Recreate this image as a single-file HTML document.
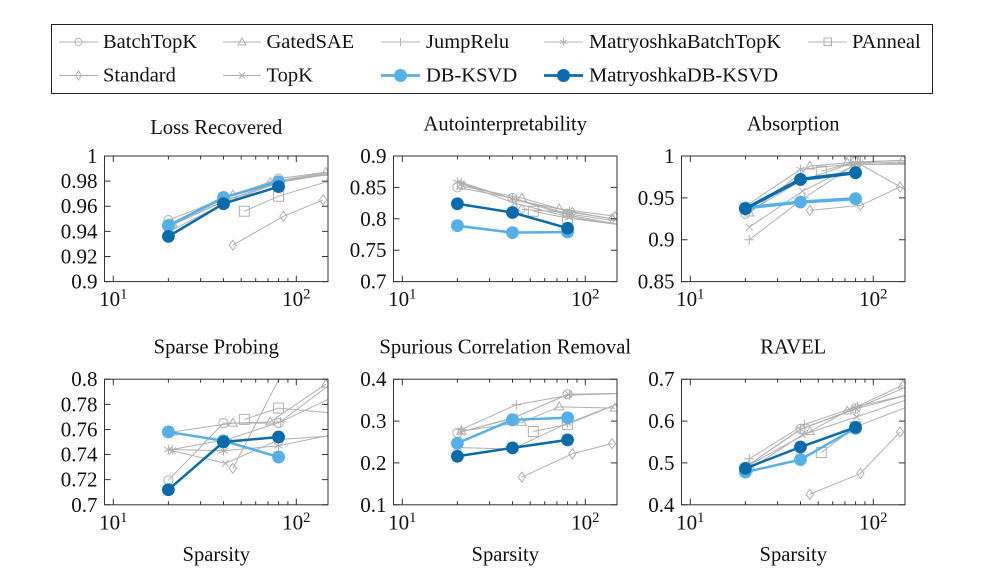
<!DOCTYPE html>
<html lang="en">
<head>
<meta charset="utf-8">
<title>SAE metric comparison</title>
<style>
html,body{margin:0;padding:0;background:#fff;width:1000px;height:582px;overflow:hidden}
svg{display:block}
text{font-family:"Liberation Serif",serif;fill:#111}
</style>
</head>
<body>
<svg id="chart" width="1000" height="582" viewBox="0 0 1000 582" xmlns="http://www.w3.org/2000/svg">
<rect x="0" y="0" width="1000" height="582" fill="#fff"/>
<g>
<rect x="51.5" y="24.5" width="881" height="69" fill="none" stroke="#222" stroke-width="1"/>
<g fill="none" stroke="#b0b0b0" stroke-width="1"><path d="M59 42H98"/><circle cx="78.5" cy="42" r="3.6"/><text x="103" y="48" font-size="20.5" stroke="none">BatchTopK</text></g>
<g fill="none" stroke="#b0b0b0" stroke-width="1"><path d="M223 42H261"/><path d="M242 38L246 45H238Z"/><text x="266.500" y="48" font-size="20.5" stroke="none">GatedSAE</text></g>
<g fill="none" stroke="#b0b0b0" stroke-width="1"><path d="M381 42H420"/><path d="M400.500 38V46"/><text x="426" y="48" font-size="20.5" stroke="none">JumpRelu</text></g>
<g fill="none" stroke="#b0b0b0" stroke-width="1"><path d="M544 42H583"/><path d="M563.500 38V46M560 40L567 44M560 44L567 40"/><text x="589" y="48" font-size="20.5" stroke="none">MatryoshkaBatchTopK</text></g>
<g fill="none" stroke="#b0b0b0" stroke-width="1"><path d="M808 42H847"/><rect x="824" y="38" width="7.500" height="7.500"/><text x="852" y="48" font-size="20.5" stroke="none">PAnneal</text></g>
<g fill="none" stroke="#b0b0b0" stroke-width="1"><path d="M59 75.500H98"/><path d="M78.500 71L81.500 75.500L78.500 80L75.500 75.500Z"/><text x="103" y="81.500" font-size="20.5" stroke="none">Standard</text></g>
<g fill="none" stroke="#b0b0b0" stroke-width="1"><path d="M223 75.500H261"/><path d="M239 72.500L245 78.500M239 78.500L245 72.500"/><text x="266.500" y="81.500" font-size="20.5" stroke="none">TopK</text></g>
<g fill="none" stroke="#56b0e8" stroke-width="2.800"><path d="M381 75.500H420"/><circle cx="400.500" cy="75.500" r="6.500" fill="#56b0e8" stroke="none"/><text x="426" y="81.500" font-size="20.5" stroke="none">DB-KSVD</text></g>
<g fill="none" stroke="#0a6bab" stroke-width="2.800"><path d="M544 75.500H583"/><circle cx="563.500" cy="75.500" r="6.500" fill="#0a6bab" stroke="none"/><text x="589" y="81.500" font-size="20.5" stroke="none">MatryoshkaDB-KSVD</text></g>
</g>
</svg>
<script>
// Sparsity values per series
const xBatch = [20, 40, 80, 160];
const xGated = [21, 45, 72, 145];
const xJump = [21, 42, 82, 160];
const xMatBatch = [20, 40, 80, 160];
const xPAnneal = [52, 80, 160];
const xStandard = [45, 85, 140];
const xTopK = [21, 41, 81, 160];
const xDb = [20, 40, 80];

// Loss Recovered
const lossBatch = [0.949, 0.966, 0.982, 0.988];
const lossGated = [0.946, 0.969, 0.979, 0.987];
const lossJump = [0.945, 0.965, 0.98, 0.987];
const lossMatBatch = [0.944, 0.964, 0.979, 0.986];
const lossPAnneal = [0.956, 0.968, 0.981];
const lossStandard = [0.929, 0.952, 0.965];
const lossTopK = [0.941, 0.963, 0.979, 0.987];
const lossDb = [0.9446, 0.967, 0.9795];
const lossMatDb = [0.936, 0.962, 0.9756];
const lossTicks = [0.9, 0.92, 0.94, 0.96, 0.98, 1];

// Autointerpretability
const autoBatch = [0.85, 0.833, 0.808, 0.795];
const autoGated = [0.852, 0.833, 0.816, 0.804];
const autoJump = [0.858, 0.83, 0.812, 0.797];
const autoMatBatch = [0.858, 0.832, 0.806, 0.79];
const autoPAnneal = [0.812, 0.801, 0.79];
const autoStandard = [0.815, 0.81, 0.8];
const autoTopK = [0.856, 0.825, 0.803, 0.79];
const autoDb = [0.789, 0.778, 0.779];
const autoMatDb = [0.824, 0.81, 0.785];
const autoTicks = [0.7, 0.75, 0.8, 0.85, 0.9];

// Absorption
const absBatch = [0.931, 0.97, 0.993, 0.99];
const absGated = [0.932, 0.988, 0.992, 0.995];
const absJump = [0.9, 0.95, 0.992, 0.956];
const absMatBatch = [0.94, 0.984, 0.991, 0.993];
const absPAnneal = [0.982, 0.993, 0.995];
const absStandard = [0.935, 0.941, 0.963];
const absTopK = [0.915, 0.958, 0.99, 0.99];
const absDb = [0.938, 0.945, 0.949];
const absMatDb = [0.937, 0.972, 0.98];
const absTicks = [0.85, 0.9, 0.95, 1];

// Sparse Probing
const sparseBatch = [0.7195, 0.765, 0.765, 0.798];
const sparseGated = [0.758, 0.765, 0.766, 0.796];
const sparseJump = [0.744, 0.752, 0.766, 0.786];
const sparseMatBatch = [0.744, 0.743, 0.747, 0.756];
const sparsePAnneal = [0.768, 0.777, 0.773];
const sparseStandard = [0.729, 0.807, 0.83];
const sparseTopK = [0.743, 0.733, 0.752, 0.755];
const sparseDb = [0.758, 0.751, 0.738];
const sparseMatDb = [0.712, 0.75, 0.754];
const sparseTicks = [0.7, 0.72, 0.74, 0.76, 0.78, 0.8];

// Spurious Correlation Removal
const scrBatch = [0.272, 0.306, 0.364, 0.366];
const scrGated = [0.276, 0.297, 0.334, 0.331];
const scrJump = [0.28, 0.339, 0.362, 0.366];
const scrMatBatch = [0.237, 0.233, 0.295, 0.346];
const scrPAnneal = [0.275, 0.292, 0.346];
const scrStandard = [0.166, 0.222, 0.246];
const scrTopK = [0.274, 0.309, 0.364, 0.366];
const scrDb = [0.247, 0.303, 0.308];
const scrMatDb = [0.216, 0.236, 0.255];
const scrTicks = [0.1, 0.2, 0.3, 0.4];

// RAVEL
const ravelBatch = [0.49, 0.581, 0.63, 0.686];
const ravelGated = [0.495, 0.575, 0.624, 0.686];
const ravelJump = [0.51, 0.592, 0.635, 0.664];
const ravelMatBatch = [0.49, 0.58, 0.629, 0.664];
const ravelPAnneal = [0.525, 0.586, 0.637];
const ravelStandard = [0.425, 0.475, 0.574];
const ravelTopK = [0.485, 0.567, 0.61, 0.654];
const ravelDb = [0.478, 0.508, 0.583];
const ravelMatDb = [0.487, 0.538, 0.585];
const ravelTicks = [0.4, 0.5, 0.6, 0.7];

const xTickExponents = [1, 2];
const minorTickFactors = [2, 3, 4, 5, 6, 7, 8, 9];

const NS = 'http://www.w3.org/2000/svg';
const root = document.getElementById('chart');
const GRAY = '#b0b0b0', LIGHT = '#56b0e8', DARK = '#0a6bab', AXIS = '#333';

function make(tag, parent, attrs) {
  const el = document.createElementNS(NS, tag);
  for (const k in attrs) el.setAttribute(k, attrs[k]);
  parent.appendChild(el);
  return el;
}

function markerPath(kind, x, y) {
  const r = 4.2;
  if (kind === 'triangle') return `M${x} ${y-r-0.6}L${x+r+0.4} ${y+r-1.2}H${x-r-0.4}Z`;
  if (kind === 'plus') return `M${x-r-0.6} ${y}H${x+r+0.6}M${x} ${y-r-0.6}V${y+r+0.6}`;
  if (kind === 'star') return `M${x} ${y-r-0.6}V${y+r+0.6}M${x-r} ${y-r*0.6}L${x+r} ${y+r*0.6}M${x-r} ${y+r*0.6}L${x+r} ${y-r*0.6}`;
  if (kind === 'square') return `M${x-r-0.8} ${y-r-0.8}h${2*r+1.6}v${2*r+1.6}h${-2*r-1.6}Z`;
  if (kind === 'diamond') return `M${x} ${y-r-0.8}L${x+r-0.6} ${y}L${x} ${y+r+0.8}L${x-r+0.6} ${y}Z`;
  if (kind === 'cross') return `M${x-r+0.8} ${y-r+0.8}L${x+r-0.8} ${y+r-0.8}M${x-r+0.8} ${y+r-0.8}L${x+r-0.8} ${y-r+0.8}`;
  return '';
}

function drawPanel(p, index) {
  const panel = make('g', root, {});
  
  

  const left = p.left, right = p.left + 223.5, top = p.top, bottom = p.top + 125.6;
  const x10 = left + 8.8, decade = 183;
  const sx = v => x10 + (Math.log10(v) - 1) * decade;
  const sy = v => bottom - (v - p.yMin) / (p.yMax - p.yMin) * (bottom - top);
  const cx = (left + right) / 2;

  const title = make('text', panel, {x: cx, y: p.titleY, 'font-size': 20.6, 'text-anchor': 'middle'});
  
  
  title.textContent = p.title;

  const clipId = 'clip-' + index;
  const defs = make('defs', panel, {});
  const clip = make('clipPath', defs, {id: clipId});
  make('rect', clip, {x: left, y: top, width: right - left, height: bottom - top});

  const plot = make('g', panel, {'clip-path': `url(#${clipId})`});
  
  

  p.series.forEach(s => {
    const g = make('g', plot, {fill: 'none', stroke: s.color, 'stroke-width': s.thick ? (p.heavy ? 3.4 : 2.5) : 1});
    
    
    const pts = s.y.map((v, i) => [sx(s.x[i]), sy(v)]);
    const line = make('path', g, {d: 'M' + pts.map(q => q[0].toFixed(2) + ' ' + q[1].toFixed(2)).join('L')});
    
    
    pts.forEach(q => {
      let m;
      if (s.kind === 'dot') m = make('circle', g, {cx: q[0], cy: q[1], r: 6.4, fill: s.color, stroke: 'none'});
      else if (s.kind === 'circle') m = make('circle', g, {cx: q[0], cy: q[1], r: 4.6});
      else m = make('path', g, {d: markerPath(s.kind, q[0], q[1])});
      
      
    });
  });

  const ticks = make('g', panel, {stroke: AXIS, 'stroke-width': 1, fill: 'none'});
  
  
  let d = '';
  xTickExponents.forEach(e => {
    const X = sx(Math.pow(10, e));
    d += `M${X} ${bottom}v-6M${X} ${top}v6`;
  });
  xTickExponents.forEach(e => {
    minorTickFactors.forEach(f => {
      const v = f * Math.pow(10, e);
      if (sx(v) < right) {
        const X = sx(v);
        d += `M${X} ${bottom}v-3.5M${X} ${top}v3.5`;
      }
    });
  });
  p.ticks.forEach(t => {
    const Y = sy(t);
    d += `M${left} ${Y}h6M${right} ${Y}h-6`;
  });
  make('path', ticks, {d});

  const frame = make('rect', panel, {x: left, y: top, width: right - left, height: bottom - top, fill: 'none', stroke: AXIS, 'stroke-width': 1});
  
  

  p.ticks.forEach(t => {
    const label = make('text', panel, {x: left - 7, y: sy(t) + 7, 'font-size': 21, 'text-anchor': 'end'});
    
    
    label.textContent = String(t);
  });

  xTickExponents.forEach(e => {
    const label = make('text', panel, {x: sx(Math.pow(10, e)), y: bottom + 24.5, 'font-size': 21, 'text-anchor': 'middle'});
    
    
    label.textContent = '10';
    const sup = make('tspan', label, {dy: -7.5, 'font-size': 14.5});
    
    
    sup.textContent = String(e);
  });

  if (p.xlabel) {
    const xl = make('text', panel, {x: cx, y: 561, 'font-size': 20.6, 'text-anchor': 'middle'});
    
    
    xl.textContent = 'Sparsity';
  }
}

function seriesSet(batch, gated, jump, mat, pann, std, topk, db, matdb) {
  return [
    {name: 'batchtopk', kind: 'circle', color: GRAY, x: xBatch, y: batch},
    {name: 'gatedsae', kind: 'triangle', color: GRAY, x: xGated, y: gated},
    {name: 'jumprelu', kind: 'plus', color: GRAY, x: xJump, y: jump},
    {name: 'matryoshkabatchtopk', kind: 'star', color: GRAY, x: xMatBatch, y: mat},
    {name: 'panneal', kind: 'square', color: GRAY, x: xPAnneal, y: pann},
    {name: 'standard', kind: 'diamond', color: GRAY, x: xStandard, y: std},
    {name: 'topk', kind: 'cross', color: GRAY, x: xTopK, y: topk},
    {name: 'db-ksvd', kind: 'dot', color: LIGHT, thick: true, x: xDb, y: db},
    {name: 'matryoshkadb-ksvd', kind: 'dot', color: DARK, thick: true, x: xDb, y: matdb}
  ];
}

[
  {slug: 'loss-recovered', title: 'Loss Recovered', titleY: 134, left: 104.5, top: 156, yMin: 0.9, yMax: 1, ticks: lossTicks,
   series: seriesSet(lossBatch, lossGated, lossJump, lossMatBatch, lossPAnneal, lossStandard, lossTopK, lossDb, lossMatDb)},
  {slug: 'autointerpretability', title: 'Autointerpretability', titleY: 130.5, left: 393.5, top: 156, yMin: 0.7, yMax: 0.9, ticks: autoTicks,
   series: seriesSet(autoBatch, autoGated, autoJump, autoMatBatch, autoPAnneal, autoStandard, autoTopK, autoDb, autoMatDb)},
  {slug: 'absorption', title: 'Absorption', titleY: 130.5, left: 681.5, top: 156, yMin: 0.85, yMax: 1, ticks: absTicks, heavy: true,
   series: seriesSet(absBatch, absGated, absJump, absMatBatch, absPAnneal, absStandard, absTopK, absDb, absMatDb)},
  {slug: 'sparse-probing', title: 'Sparse Probing', titleY: 353.5, left: 104.5, top: 379.2, yMin: 0.7, yMax: 0.8, ticks: sparseTicks, xlabel: true,
   series: seriesSet(sparseBatch, sparseGated, sparseJump, sparseMatBatch, sparsePAnneal, sparseStandard, sparseTopK, sparseDb, sparseMatDb)},
  {slug: 'spurious-correlation-removal', title: 'Spurious Correlation Removal', titleY: 353.5, left: 393.5, top: 379.2, yMin: 0.1, yMax: 0.4, ticks: scrTicks, xlabel: true,
   series: seriesSet(scrBatch, scrGated, scrJump, scrMatBatch, scrPAnneal, scrStandard, scrTopK, scrDb, scrMatDb)},
  {slug: 'ravel', title: 'RAVEL', titleY: 353.5, left: 681.5, top: 379.2, yMin: 0.4, yMax: 0.7, ticks: ravelTicks, xlabel: true,
   series: seriesSet(ravelBatch, ravelGated, ravelJump, ravelMatBatch, ravelPAnneal, ravelStandard, ravelTopK, ravelDb, ravelMatDb)}
].forEach(drawPanel);
</script>
</body>
</html>
